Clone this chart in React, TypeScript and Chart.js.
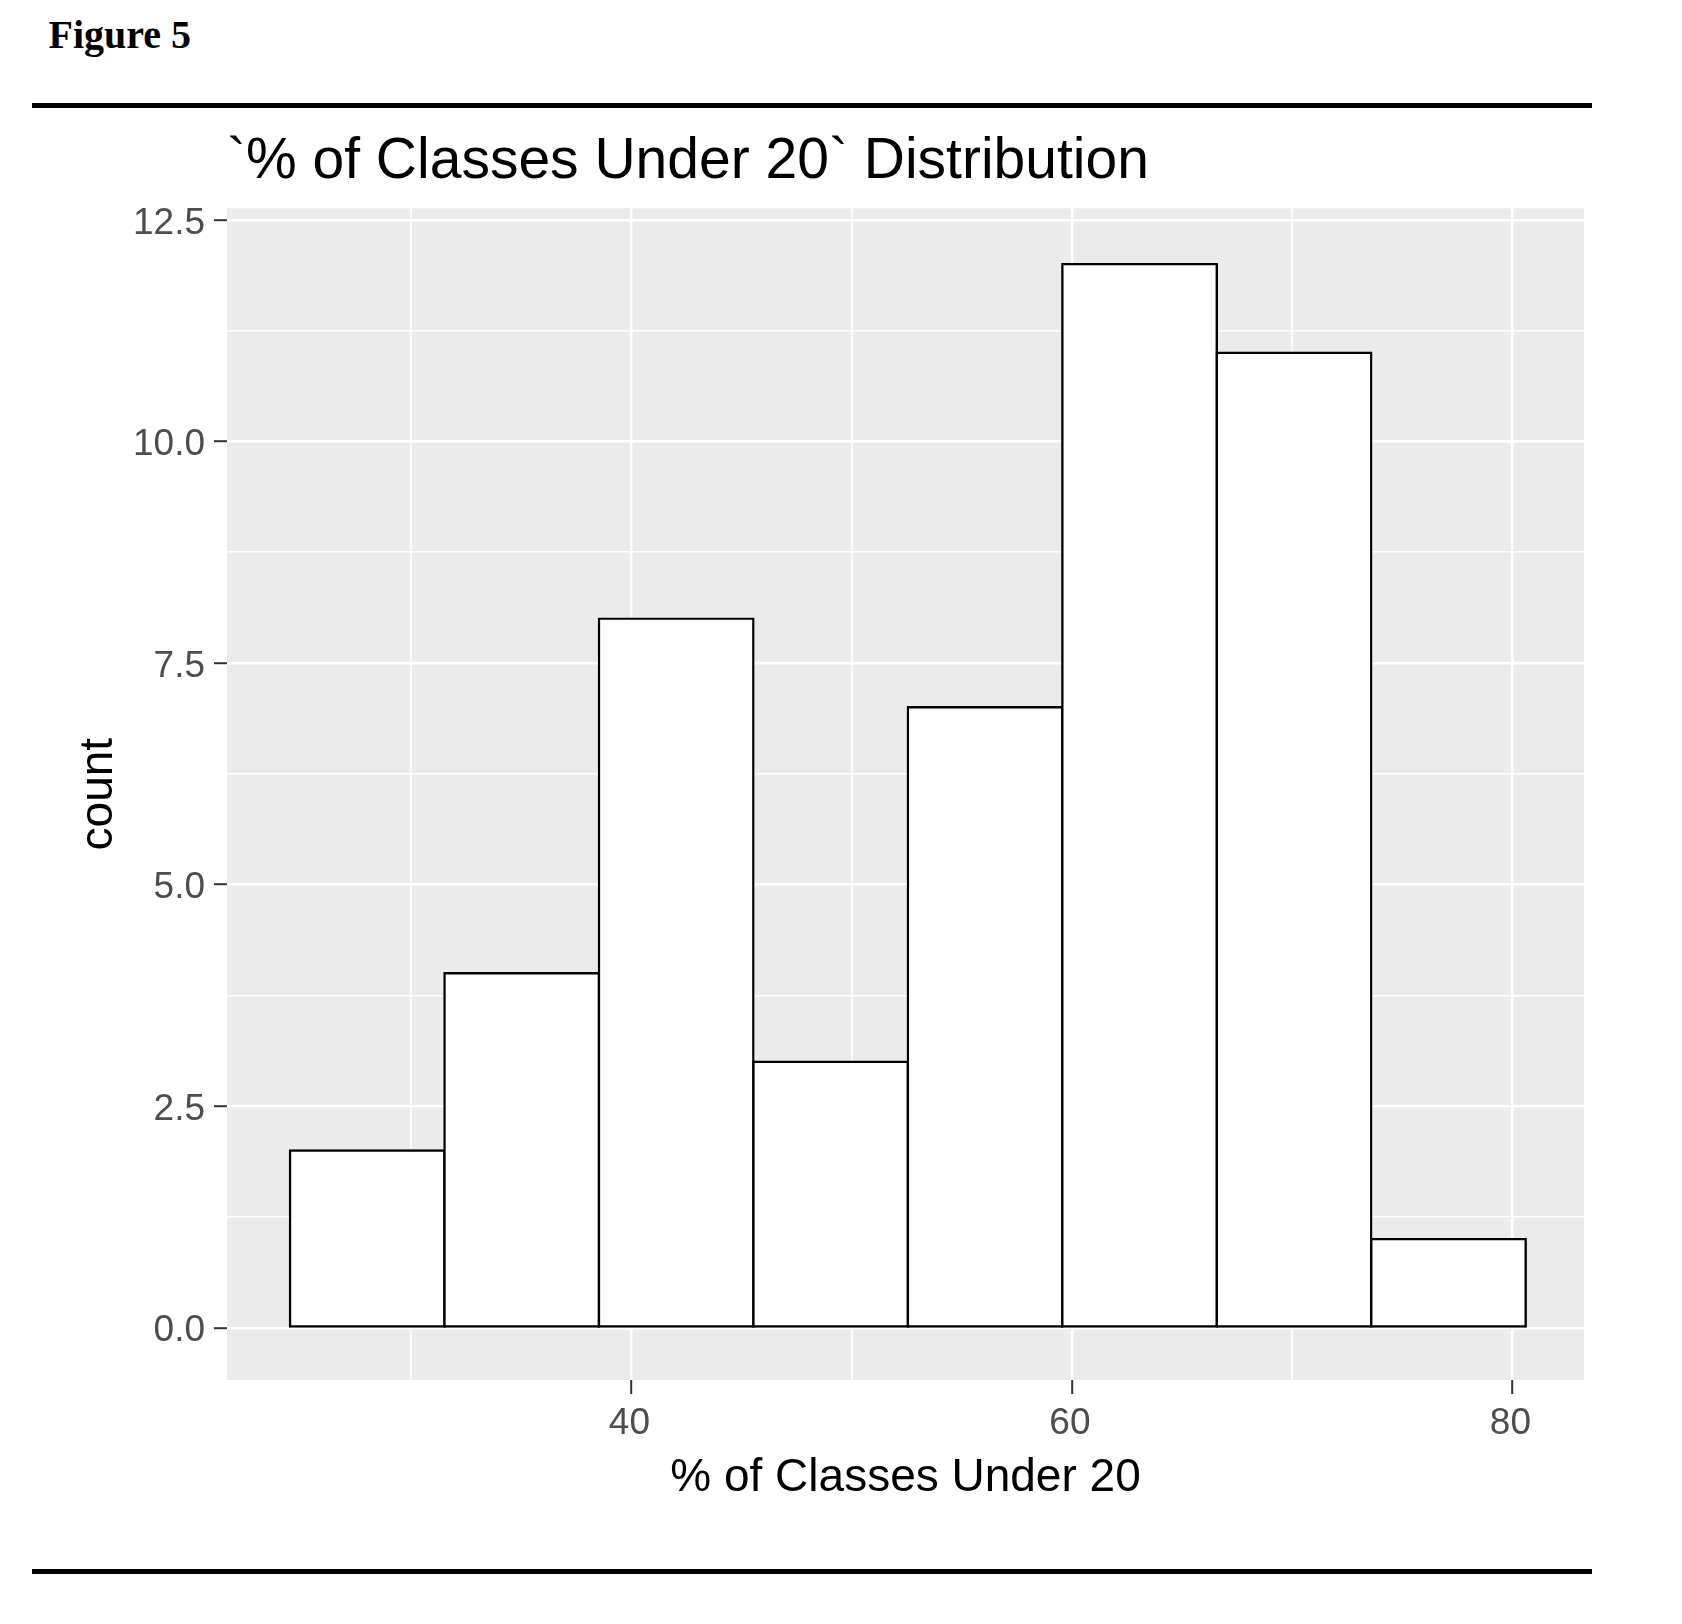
import React, { useEffect, useRef } from "react";
import { Chart, registerables } from "chart.js";

Chart.register(...registerables);

// ---- data ----
const binEdges = [24.5, 31.513, 38.526, 45.539, 52.552, 59.565, 66.578, 73.591, 80.604];
const counts = [2, 4, 8, 3, 7, 12, 11, 1];
const yTickValues = [0, 1.25, 2.5, 3.75, 5, 6.25, 7.5, 8.75, 10, 11.25, 12.5];
const yMajorTicks = [0, 2.5, 5, 7.5, 10, 12.5];
const xTickValues = [30, 40, 50, 60, 70, 80];
const xMajorTicks = [40, 60, 80];
const xRange = [21.64, 83.25];
const yRange = [-0.59, 12.63];
const titleText = "`% of Classes Under 20` Distribution";
const xTitle = "% of Classes Under 20";
const yTitle = "count";
const figureLabel = "Figure 5";

const FONT = "'Liberation Sans', Arial, sans-serif";

const panelBg = {
  id: "panelBg",
  beforeDraw(chart: any) {
    const { ctx, chartArea } = chart;
    if (!chartArea) return;
    ctx.save();
    ctx.fillStyle = "#EBEBEB";
    ctx.fillRect(chartArea.left, chartArea.top, chartArea.right - chartArea.left, chartArea.bottom - chartArea.top);
    ctx.restore();
  },
};

export default function App() {
  const canvasRef = useRef<HTMLCanvasElement | null>(null);

  useEffect(() => {
    if (!canvasRef.current) return;
    const points = counts.map((c, i) => ({ x: (binEdges[i] + binEdges[i + 1]) / 2, y: c }));
    const isMajorY = (v: number) => yMajorTicks.some((m) => Math.abs(m - v) < 1e-9);
    const isMajorX = (v: number) => xMajorTicks.some((m) => Math.abs(m - v) < 1e-9);

    const chart = new Chart(canvasRef.current, {
      type: "bar",
      data: {
        datasets: [
          {
            data: points as any,
            backgroundColor: "#FFFFFF",
            borderColor: "#000000",
            borderWidth: 2.4,
            inflateAmount: 1.2,
            borderSkipped: false,
            barPercentage: 1,
            categoryPercentage: 1,
          } as any,
        ],
      },
      options: {
        animation: false,
        responsive: true,
        maintainAspectRatio: false,
        layout: { padding: { left: 0, right: 98, top: 17.7, bottom: 53.6 } },
        plugins: {
          legend: { display: false },
          tooltip: { enabled: false },
          title: {
            display: true,
            text: titleText,
            align: "start",
            fullSize: false,
            color: "#000000",
            font: { family: FONT, size: 57, weight: "normal" as any },
            padding: { top: 0, bottom: 12.2 },
          },
        },
        scales: {
          x: {
            type: "linear",
            position: "bottom",
            min: xRange[0],
            max: xRange[1],
            offset: false,
            bounds: "data",
            afterBuildTicks: (scale: any) => {
              scale.ticks = xTickValues.map((v) => ({ value: v }));
            },
            afterFit: (scale: any) => {
              scale.height = 126.4;
            },
            grid: {
              offset: false,
              color: "#FFFFFF",
              lineWidth: (ctx: any) => (ctx.tick && isMajorX(ctx.tick.value) ? 2.4 : 1.6),
              drawTicks: true,
              tickLength: 14,
              tickWidth: 2,
              tickColor: (ctx: any) => (ctx.tick && isMajorX(ctx.tick.value) ? "#333333" : "rgba(0,0,0,0)"),
            },
            border: { display: false },
            ticks: {
              autoSkip: false,
              maxRotation: 0,
              minRotation: 0,
              padding: 7.5,
              labelOffset: -2,
              color: "#4D4D4D",
              font: { family: FONT, size: 37 },
              callback: (value: any) => (isMajorX(Number(value)) ? String(value) : ""),
            },
            title: {
              display: true,
              text: xTitle,
              color: "#000000",
              font: { family: FONT, size: 46 },
              padding: { top: 0, bottom: 0 },
            },
          },
          y: {
            type: "linear",
            position: "left",
            min: yRange[0],
            max: yRange[1],
            bounds: "data",
            afterBuildTicks: (scale: any) => {
              scale.ticks = yTickValues.map((v) => ({ value: v }));
            },
            afterFit: (scale: any) => {
              scale.width = 227;
            },
            grid: {
              color: "#FFFFFF",
              lineWidth: (ctx: any) => (ctx.tick && isMajorY(ctx.tick.value) ? 2.4 : 1.6),
              drawTicks: true,
              tickLength: 13,
              tickWidth: 2,
              tickColor: (ctx: any) => (ctx.tick && isMajorY(ctx.tick.value) ? "#333333" : "rgba(0,0,0,0)"),
            },
            border: { display: false },
            ticks: {
              autoSkip: false,
              padding: 9,
              labelOffset: 3.5,
              color: "#4D4D4D",
              font: { family: FONT, size: 37 },
              callback: (value: any) => (isMajorY(Number(value)) ? Number(value).toFixed(1) : ""),
            },
            title: {
              display: true,
              text: yTitle,
              color: "#000000",
              font: { family: FONT, size: 46 },
              padding: { top: 71.5, bottom: 0 },
            },
          },
        },
      } as any,
      plugins: [panelBg],
    });

    return () => {
      chart.destroy();
    };
  }, []);

  return (
    <div
      style={{
        position: "absolute",
        left: 0,
        top: 0,
        width: 1682,
        height: 1624,
        overflow: "hidden",
        background: "#FFFFFF",
      }}
    >
      <div
        style={{
          position: "absolute",
          left: 48.5,
          top: 14.8,
          fontFamily: "'Liberation Serif', 'Times New Roman', serif",
          fontWeight: "bold",
          fontSize: 40,
          lineHeight: "40px",
          color: "#000000",
          whiteSpace: "nowrap",
        }}
      >
        {figureLabel}
      </div>
      <div style={{ position: "absolute", left: 32, top: 103, width: 1560, height: 5, background: "#000000" }} />
      <div style={{ position: "absolute", left: 32, top: 1569, width: 1560, height: 5, background: "#000000" }} />
      <div style={{ position: "absolute", left: 0, top: 110, width: 1682, height: 1450 }}>
        <canvas ref={canvasRef} />
      </div>
    </div>
  );
}
